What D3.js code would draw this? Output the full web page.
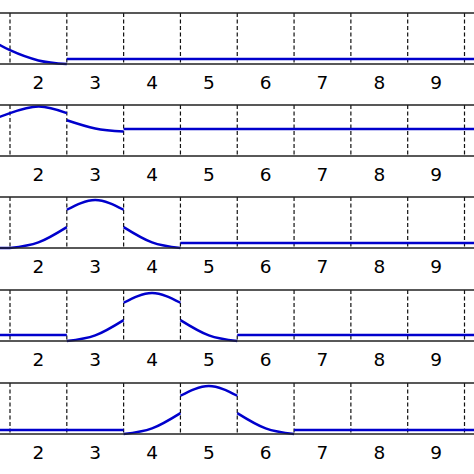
<!DOCTYPE html>
<html><head><meta charset="utf-8">
<script src="https://cdn.jsdelivr.net/npm/d3@7"></script>
<style>body{margin:0;background:#fff}</style></head>
<body><svg id="c" width="474" height="474"></svg>
<script>
const ticks = [2,3,4,5,6,7,8,9];
const knots = [1.5,2.5,3.5,4.5,5.5,6.5,7.5,8.5,9.5];
// each panel: list of pieces, each piece a list of [x,y] points
const panel1 = [
  [[1.2,0.45],[1.5,0.27],[2.0,0.07],[2.5,0]],
  [[2.5,0.1],[11,0.1]]
];
const panel2 = [
  [[1.2,0.72],[1.5,0.84],[2.0,0.97],[2.5,0.84]],
  [[2.5,0.70],[3.0,0.54],[3.5,0.48]],
  [[3.5,0.53],[11,0.53]]
];
const panel3 = [
  [[1.2,0],[1.5,0]],
  [[1.5,0],[2.0,0.11],[2.5,0.41]],
  [[2.5,0.75],[3.0,0.94],[3.5,0.75]],
  [[3.5,0.41],[4.0,0.11],[4.5,0]],
  [[4.5,0.1],[11,0.1]]
];
const panel4 = [
  [[1.2,0.12],[2.5,0.12]],
  [[2.5,0],[3.0,0.11],[3.5,0.41]],
  [[3.5,0.75],[4.0,0.94],[4.5,0.75]],
  [[4.5,0.41],[5.0,0.11],[5.5,0]],
  [[5.5,0.12],[11,0.12]]
];
const panel5 = [
  [[1.2,0.08],[3.5,0.08]],
  [[3.5,0],[4.0,0.11],[4.5,0.41]],
  [[4.5,0.75],[5.0,0.94],[5.5,0.75]],
  [[5.5,0.41],[6.0,0.11],[6.5,0]],
  [[6.5,0.08],[11,0.08]]
];
const panels = [panel1,panel2,panel3,panel4,panel5];
const tops = [13,105,197,290,383];
const H = 51;

const svg = d3.select('#c');
const x = d3.scaleLinear().domain([1.5,9.5]).range([10,464.5]);
panels.forEach((p,i)=>{
  const top = tops[i];
  const y = d3.scaleLinear().domain([0,1]).range([top+H, top]);
  const g = svg.append('g');
  const cid = 'clip'+i;
  g.append('clipPath').attr('id',cid).append('rect')
    .attr('x',-5).attr('y',top-3).attr('width',490).attr('height',H+6);
  knots.forEach(k=>{
    g.append('line').attr('x1',x(k)).attr('x2',x(k)).attr('y1',top).attr('y2',top+H)
      .attr('stroke','#111').attr('stroke-width',1.2).attr('stroke-dasharray','4,2.5');
  });
  const line = d3.line().x(d=>x(d[0])).y(d=>y(d[1])).curve(d3.curveNatural);
  p.forEach(piece=>{
    g.append('path').attr('d',line(piece)).attr('fill','none')
      .attr('stroke','#0000cc').attr('stroke-width',2.5).attr('clip-path',`url(#${cid})`);
  });
  g.append('rect').attr('x',-2).attr('y',top).attr('width',490).attr('height',H)
    .attr('fill','none').attr('stroke','#222').attr('stroke-width',1.5);
  g.selectAll('text.t').data(ticks).enter().append('text')
    .attr('x',d=>x(d)).attr('y',top+H+25).attr('text-anchor','middle')
    .attr('font-family','DejaVu Sans').attr('font-size',18.5).attr('fill','#000').text(d=>d);
});
</script></body></html>
